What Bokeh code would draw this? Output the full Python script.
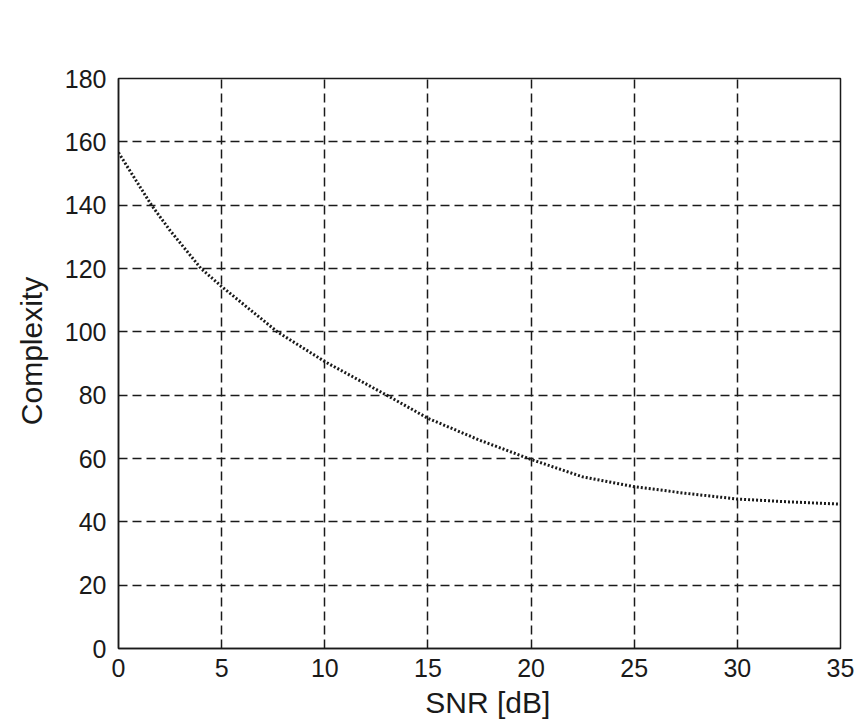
from bokeh.plotting import figure
from bokeh.models import Range1d, FixedTicker
from bokeh.embed import file_html
from bokeh.resources import INLINE

snr_db = [0, 1.6, 2.5, 4.0, 5, 7.7, 10, 13, 15, 17.5, 20, 22.5, 25, 27.5, 30, 32.5, 35]
complexity = [156.6, 140, 132, 120, 114.3, 100, 90.6, 80, 72.7, 65.8, 59.7, 54.2, 51.1, 49.0, 47.2, 46.3, 45.6]

x_ticks = [0, 5, 10, 15, 20, 25, 30, 35]
y_ticks = [0, 20, 40, 60, 80, 100, 120, 140, 160, 180]

FONT = "Liberation Sans"
NBSP = "\u00a0"

p = figure(width=863, height=723, output_backend="svg", toolbar_location=None,
           x_range=Range1d(0, 35), y_range=Range1d(0, 180),
           min_border_left=118, min_border_right=23, min_border_top=78, min_border_bottom=75)

p.line(snr_db, complexity, line_color="#1a1a1a", line_width=3, line_dash="2 2")

for ax in (p.xaxis[0], p.yaxis[0]):
    ax.major_label_text_font = FONT
    ax.major_label_text_font_size = "25px"
    ax.major_label_text_color = "#1a1a1a"
    ax.axis_label_text_font = FONT
    ax.axis_label_text_font_size = "30px"
    ax.axis_label_text_font_style = "normal"
    ax.axis_label_text_color = "#1a1a1a"
    ax.major_tick_out = 0
    ax.major_tick_in = 0
    ax.minor_tick_out = 0
    ax.minor_tick_in = 0
    ax.axis_line_color = "#1a1a1a"
    ax.axis_line_width = 1.5

p.xaxis.ticker = FixedTicker(ticks=x_ticks)
p.yaxis.ticker = FixedTicker(ticks=y_ticks)
p.xaxis.axis_label = NBSP * 2 + "SNR [dB]"
p.yaxis.axis_label = NBSP * 3 + "Complexity"
p.xaxis.major_label_standoff = 10
p.yaxis.major_label_standoff = 12
p.xaxis.axis_label_standoff = 6
p.yaxis.axis_label_standoff = 14

for g in (p.xgrid[0], p.ygrid[0]):
    g.grid_line_color = "#1a1a1a"
    g.grid_line_width = 1.5
    g.grid_line_dash = "9 5"
    g.grid_line_alpha = 1.0

p.outline_line_color = "#1a1a1a"
p.outline_line_width = 1.5
p.outline_line_alpha = 1.0
p.background_fill_color = "white"
p.border_fill_color = "white"

open("out.html", "w").write(file_html(p, INLINE))
